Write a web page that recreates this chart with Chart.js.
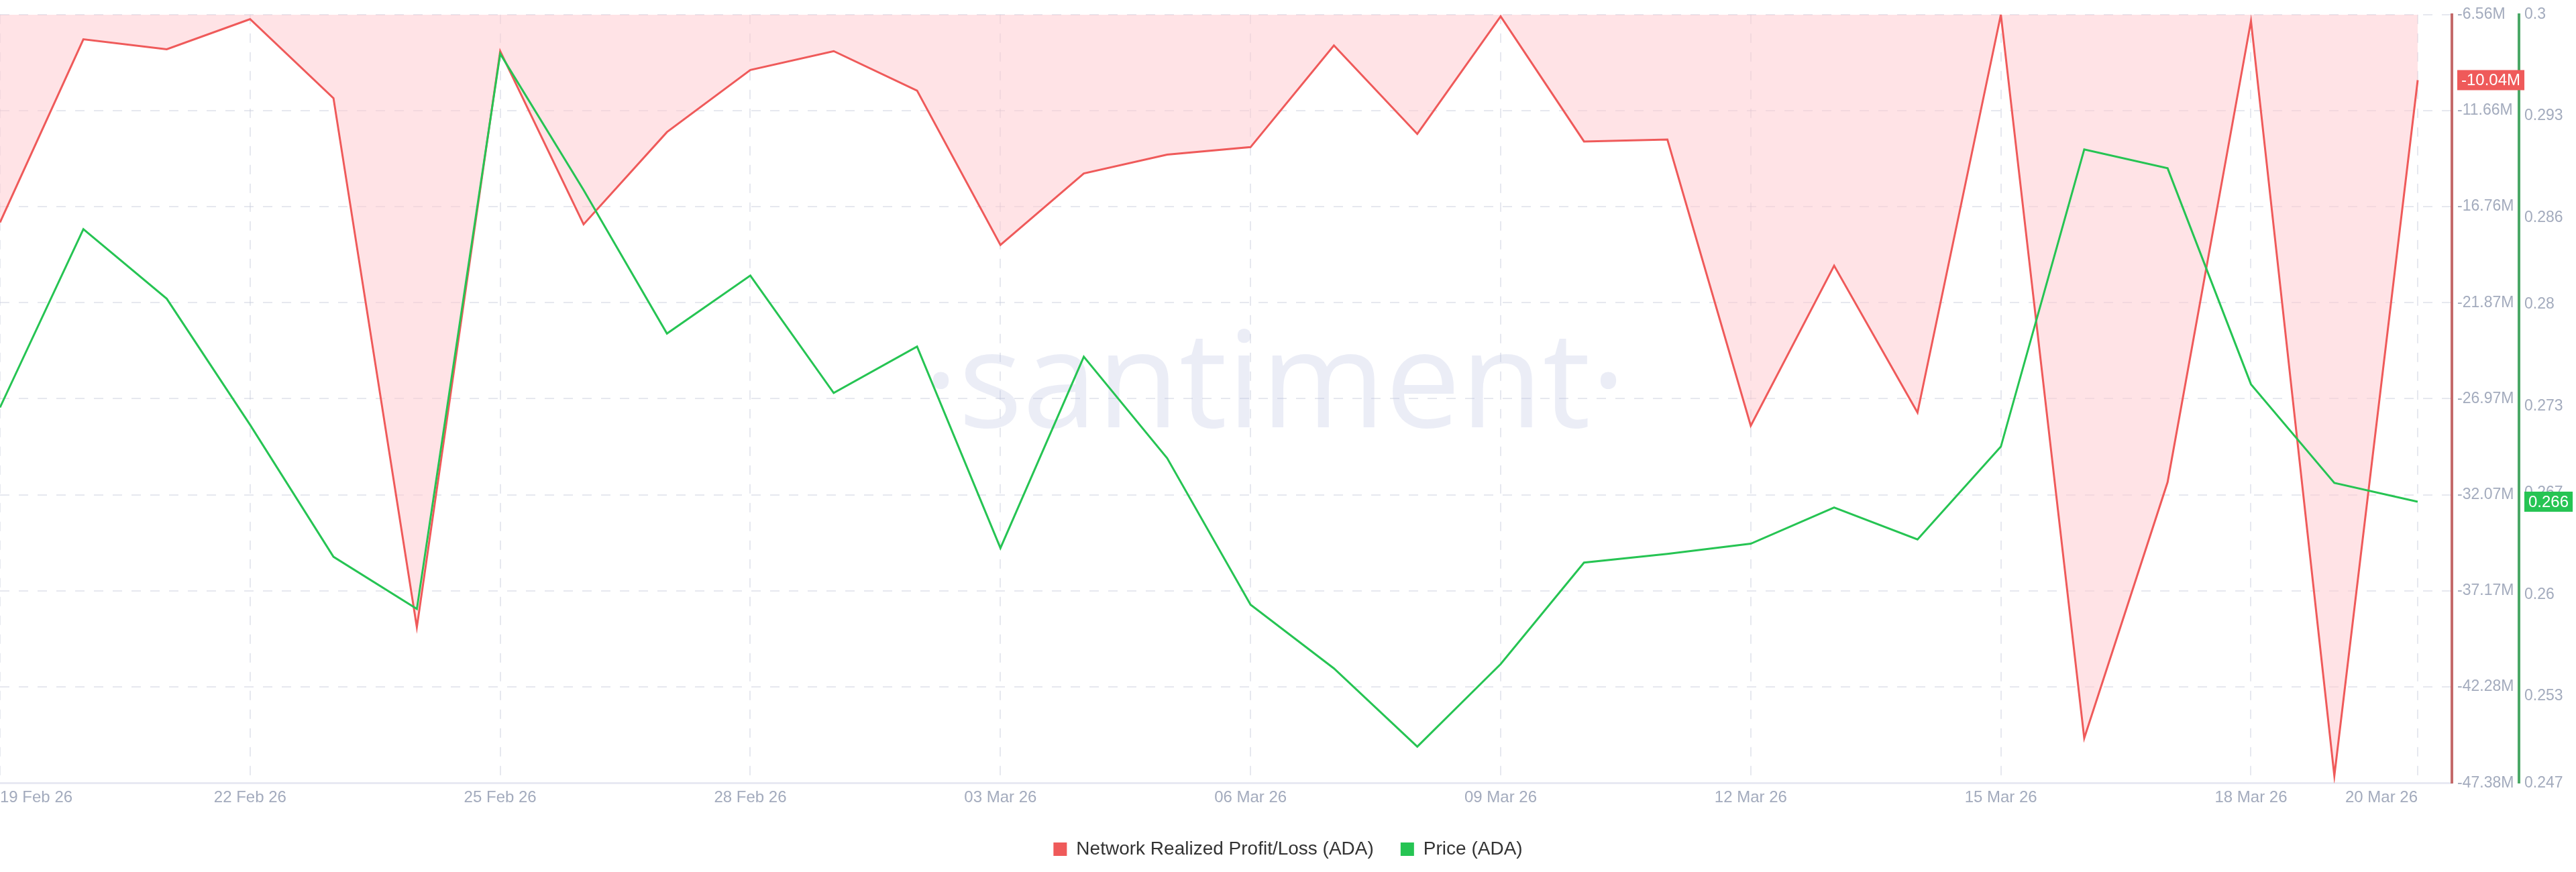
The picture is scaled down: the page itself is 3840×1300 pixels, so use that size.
<!DOCTYPE html>
<html>
<head>
<meta charset="utf-8">
<script src="https://cdn.jsdelivr.net/npm/chart.js@4"></script>
<style>
  html, body { margin: 0; padding: 0; background: #fff; }
  #wrap { width: 3840px; height: 1300px; }
</style>
</head>
<body>
<div id="wrap"><canvas id="chart"></canvas></div>
<script>
// Dates, one per day
const dates = [
  '19 Feb 26','20 Feb 26','21 Feb 26','22 Feb 26','23 Feb 26','24 Feb 26','25 Feb 26','26 Feb 26',
  '27 Feb 26','28 Feb 26','01 Mar 26','02 Mar 26','03 Mar 26','04 Mar 26','05 Mar 26','06 Mar 26',
  '07 Mar 26','08 Mar 26','09 Mar 26','10 Mar 26','11 Mar 26','12 Mar 26','13 Mar 26','14 Mar 26',
  '15 Mar 26','16 Mar 26','17 Mar 26','18 Mar 26','19 Mar 26','20 Mar 26'
];

// Network Realized Profit/Loss (ADA), millions
const profitLoss = [
  -17.6, -7.87, -8.4, -6.8, -11.0, -39.1, -8.5, -17.7,
  -12.8, -9.5, -8.5, -10.6, -18.8, -15.0, -14.0, -13.6,
  -8.2, -12.9, -6.65, -13.3, -13.2, -28.4, -19.9, -27.7,
  -6.56, -45.0, -31.4, -6.9, -47.0, -10.04
];

// Price (ADA)
const price = [
  0.2729, 0.2852, 0.2804, 0.2717, 0.2626, 0.2590, 0.2973, 0.2879,
  0.2780, 0.2820, 0.2739, 0.2771, 0.2632, 0.2764, 0.2694, 0.2593,
  0.2549, 0.2495, 0.2552, 0.2622, 0.2628, 0.2635, 0.2660, 0.2638,
  0.2702, 0.2907, 0.2894, 0.2745, 0.2677, 0.2664
];

// Axis ticks
const dateTickIdx = [0, 3, 6, 9, 12, 15, 18, 21, 24, 27, 29];
const plTicks = [-6.56, -11.66, -16.76, -21.87, -26.97, -32.07, -37.17, -42.28, -47.38];
const priceTicks = [0.3, 0.293, 0.286, 0.28, 0.273, 0.267, 0.26, 0.253, 0.247];

const RED = '#ef5a5a';
const GREEN = '#26c453';
const TICK_COLOR = '#a3abbd';
const GRID = 'rgba(200, 205, 220, 0.45)';

const toPoints = arr => arr.map((v, i) => ({ x: i, y: v }));

// watermark + value badges
const extras = {
  id: 'extras',
  beforeDatasetsDraw(chart) {
    const { ctx } = chart;
    ctx.save();
    ctx.font = '200px "Open Sans", sans-serif';
    ctx.fillStyle = 'rgba(190, 195, 225, 0.3)';
    ctx.textAlign = 'center';
    ctx.textBaseline = 'middle';
    ctx.fillText('·santiment·', 1900, 580);
    ctx.restore();
  },
  afterDraw(chart) {
    const { ctx } = chart;
    const yPL = chart.scales.yPL, yP = chart.scales.yPrice;
    const badge = (scale, value, text, color) => {
      const y = scale.getPixelForValue(value);
      ctx.save();
      ctx.font = '24px "Liberation Sans", Arial, sans-serif';
      const w = ctx.measureText(text).width + 12;
      ctx.fillStyle = color;
      ctx.fillRect(scale.left + 8, y - 15, w, 30);
      ctx.fillStyle = '#fff';
      ctx.textBaseline = 'middle';
      ctx.fillText(text, scale.left + 14, y + 1);
      ctx.restore();
    };
    badge(yPL, profitLoss[profitLoss.length - 1], '-10.04M', RED);
    badge(yP, price[price.length - 1], '0.266', GREEN);
  }
};

new Chart(document.getElementById('chart'), {
  type: 'line',
  data: {
    datasets: [
      {
        label: 'Network Realized Profit/Loss (ADA)',
        data: toPoints(profitLoss),
        yAxisID: 'yPL',
        order: 2,
        borderColor: RED,
        backgroundColor: RED,
        fill: { target: 'end', above: 'rgba(255, 200, 205, 0.5)', below: 'rgba(255, 200, 205, 0.5)' },
        borderWidth: 3,
        pointRadius: 0,
        tension: 0
      },
      {
        label: 'Price (ADA)',
        data: toPoints(price),
        yAxisID: 'yPrice',
        order: 1,
        borderColor: GREEN,
        backgroundColor: GREEN,
        fill: false,
        borderWidth: 3,
        pointRadius: 0,
        tension: 0
      }
    ]
  },
  options: {
    responsive: true,
    maintainAspectRatio: false,
    animation: false,
    layout: { padding: { top: 12, left: 0, right: 0, bottom: 10 } },
    plugins: {
      legend: {
        position: 'bottom',
        labels: {
          color: '#333',
          font: { size: 28, family: '"Liberation Sans", Arial, sans-serif' },
          boxWidth: 20, boxHeight: 20, padding: 40,
          generateLabels: chart => chart.data.datasets.map((ds, i) => ({
            text: ds.label, fillStyle: ds.borderColor, strokeStyle: ds.borderColor,
            lineWidth: 0, datasetIndex: i, fontColor: '#333'
          }))
        }
      },
      tooltip: { enabled: false }
    },
    scales: {
      x: {
        type: 'linear',
        min: 0,
        max: 29.41,
        afterBuildTicks: s => { s.ticks = dateTickIdx.map(v => ({ value: v })); },
        afterFit: s => { s.paddingLeft = 0; s.paddingRight = 0; },
        ticks: {
          color: TICK_COLOR,
          font: { size: 24, family: '"Liberation Sans Narrow", "Liberation Sans", sans-serif' },
          maxRotation: 0,
          autoSkip: false,
          callback: v => dates[v] || '',
          align: 'inner',
          padding: 8
        },
        grid: { color: GRID, lineWidth: 2, tickLength: 0 },
        border: { color: '#e8e9f2', width: 3, dash: [14, 14] }
      },
      yPL: {
        position: 'right',
        min: -47.38,
        max: -6.56,
        afterBuildTicks: s => { s.ticks = plTicks.map(v => ({ value: v })); },
        afterFit: s => { s.width = 100; },
        ticks: {
          color: TICK_COLOR,
          font: { size: 23, family: '"Liberation Sans", Arial, sans-serif' },
          callback: v => v.toFixed(2) + 'M',
          padding: 8
        },
        grid: { color: GRID, lineWidth: 2, tickLength: 0 },
        border: { color: '#c46a6a', width: 4, dash: [14, 14] }
      },
      yPrice: {
        position: 'right',
        min: 0.247,
        max: 0.3,
        afterBuildTicks: s => { s.ticks = priceTicks.map(v => ({ value: v })); },
        afterFit: s => { s.width = 85; },
        ticks: {
          color: TICK_COLOR,
          font: { size: 23, family: '"Liberation Sans", Arial, sans-serif' },
          callback: v => String(+v.toFixed(3)),
          padding: 8
        },
        grid: { drawOnChartArea: false, tickLength: 0 },
        border: { color: '#4aa866', width: 4 }
      }
    }
  },
  plugins: [extras]
});
</script>
</body>
</html>
